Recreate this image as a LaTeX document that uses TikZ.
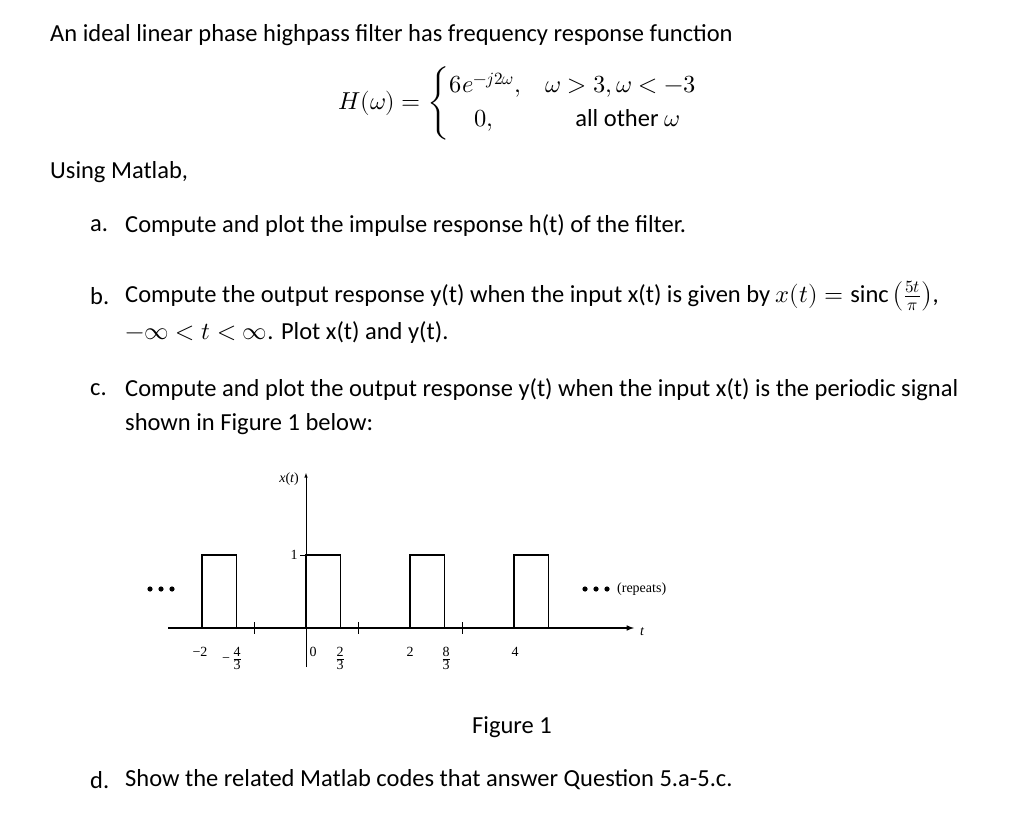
\documentclass[tikz,border=0pt]{standalone}
\usepackage{amsmath}
\usepackage{unicode-math}
\setmainfont{Carlito}
\setmathfont{Latin Modern Math}
\newfontfamily\figfont{Liberation Serif}
\newcommand{\myfrac}[2]{\begin{tabular}{@{}c@{}}#1\\[-2pt]\hline\rule{0pt}{11pt}#2\end{tabular}}
\begin{document}
\begin{tikzpicture}[x=1pt,y=-1pt,
  txt/.style={anchor=west,inner sep=0,font=\fontsize{24.5}{28}\selectfont},
  fig/.style={inner sep=0,font=\figfont\fontsize{14}{15}\selectfont},
  sig/.style={line width=1.5pt}]
\useasboundingbox (0,0) rectangle (1020,813);
\node[txt] (l1) at (50,35) {An ideal linear phase highpass filter has frequency response function};
\node[txt] (eq) at (338,103) {$H(\omega)=\begin{cases}6e^{-j2\omega}, & \omega>3,\omega<-3\\ \quad 0, & \quad\ \text{all other }\omega\end{cases}$};
\node[txt] (um) at (50,172) {Using Matlab,};
\node[txt] (la) at (90,226) {a.};
\node[txt] (ta) at (125,226) {Compute and plot the impulse response h(t) of the filter.};
\node[txt] (lb) at (90,296) {b.};
\node[txt] (tb) at (125,296) {Compute the output response y(t) when the input x(t) is given by $x(t)=\text{sinc}\left(\frac{5t}{\pi}\right)$,};
\node[txt] (tb2) at (125,333) {$-\infty<t<\infty$. Plot x(t) and y(t).};
\node[txt] (lc) at (90,390) {c.};
\node[txt] (tc) at (125,390) {Compute and plot the output response y(t) when the input x(t) is the periodic signal};
\node[txt] (tc2) at (125,424) {shown in Figure 1 below:};
\node[txt,anchor=center] (f1) at (512,727) {Figure 1};
\node[txt] (ld) at (90,780) {d.};
\node[txt] (td) at (125,780) {Show the related Matlab codes that answer Question 5.a-5.c.};
% figure
\coordinate (xa) at (168,628);
\coordinate (xb) at (634,628);
\coordinate (ya) at (306,667);
\coordinate (yb) at (306,473);
\draw[sig,-latex] (xa) -- (xb);
\draw[line width=0.6pt,-latex] (ya) -- (yb);
\node[fig,anchor=west] (tl) at (640,632) {\itshape t};
\node[fig] (xl) at (289,479) {\itshape x\upshape(\itshape t\upshape)};
\node[fig] (one) at (294,555) {1};
\draw[line width=0.6pt] (300,555) -- (306,555);
\foreach \t in {-2,0,2,4}{
  \draw[sig] ({306+52*\t},628) -- ({306+52*\t},555) -- ({306+52*(\t+2/3)},555) -- ({306+52*(\t+2/3)},628);}
\foreach \t in {-1,1,3}{\draw[line width=0.6pt] ({306+52*\t},622) -- ({306+52*\t},634);}
\node[fig] (m2) at (200,652) {−2};
\node[fig] (m43) at (226,660) {−};
\node[fig] (m43b) at (237,660) {\myfrac{4}{3}};
\node[fig] (z) at (313,652) {0};
\node[fig] (p23) at (340,660) {\myfrac{2}{3}};
\node[fig] (p2) at (410,652) {2};
\node[fig] (p83) at (446,660) {\myfrac{8}{3}};
\node[fig] (p4) at (515,652) {4};
\foreach \x in {150,161,172,585,596,607}{\fill (\x,589) circle (2.6);}
\node[fig,anchor=west] (rep) at (617,589) {(repeats)};
\end{tikzpicture}
\end{document}
